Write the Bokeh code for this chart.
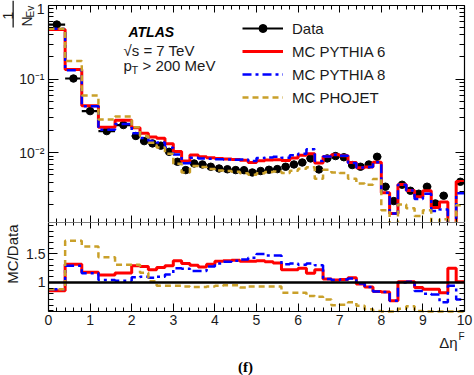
import numpy as np
from bokeh.plotting import figure
from bokeh.layouts import column
from bokeh.models import (Range1d, LinearAxis, LogAxis, FixedTicker,
                          Legend, LegendItem, Label, BoxAnnotation, CustomJSTickFormatter)
from bokeh.embed import file_html
from bokeh.resources import INLINE

# ---------------- data ----------------
bin_edges = [0.0, 0.4, 0.8, 1.2, 1.6, 2.0, 2.2, 2.4, 2.6, 2.8, 3.0, 3.2, 3.4, 3.6, 3.8, 4.0,
             4.2, 4.4, 4.6, 4.8, 5.0, 5.2, 5.4, 5.6, 5.8, 6.0, 6.2, 6.4, 6.6, 6.8, 7.0,
             7.2, 7.4, 7.6, 7.8, 8.0, 8.2, 8.4, 8.6, 8.8, 9.0, 9.2, 9.4, 9.6, 9.8, 10.0]

data_vals = [0.551, 0.102, 0.0368, 0.0197, 0.0238,
             0.0169, 0.0144, 0.0134, 0.0125, 0.0103,
             0.00755, 0.00582, 0.00716, 0.00694, 0.00646,
             0.00612, 0.00597, 0.00582, 0.0058, 0.0054,
             0.00565, 0.00588, 0.0060, 0.00646, 0.00694,
             0.00738, 0.00838, 0.00593, 0.00838, 0.00902,
             0.0087, 0.00681, 0.00646, 0.00694, 0.00883,
             0.00346, 0.00221, 0.00368, 0.00305, 0.00278,
             0.00346, 0.00205, 0.00261, 0.0008, 0.00404]

ratio_pythia6 = [0.855, 1.32, 1.18, 1.13, 1.165,
                 1.29, 1.28, 1.22, 1.26, 1.29,
                 1.38, 1.33, 1.30, 1.27, 1.32,
                 1.37, 1.38, 1.39, 1.37, 1.37,
                 1.38, 1.36, 1.34, 1.22, 1.22,
                 1.25, 1.16, 1.22, 1.06, 1.04,
                 1.05, 1.08, 0.97, 0.92, 0.84,
                 0.83, 0.68, 1.01, 1.01, 0.91,
                 0.88, 0.88, 0.82, 1.25, 1.01]

ratio_pythia8 = [0.88, 1.29, 1.16, 1.04, 1.03,
                 1.09, 1.10, 1.08, 1.10, 1.14,
                 1.25, 1.24, 1.20, 1.20, 1.28,
                 1.33, 1.36, 1.38, 1.40, 1.43,
                 1.50, 1.47, 1.47, 1.32, 1.33,
                 1.31, 1.33, 1.30, 1.06, 1.04,
                 1.05, 1.07, 0.98, 0.92, 0.84,
                 0.83, 0.68, 1.00, 1.01, 0.85,
                 0.80, 0.79, 0.65, 0.94, 0.70]

ratio_phojet = [0.88, 1.73, 1.63, 1.44, 1.31,
                1.31, 1.17, 1.02, 0.94, 0.94,
                0.94, 0.93, 0.92, 0.92, 0.93,
                0.94, 0.95, 0.95, 0.91, 0.93,
                0.93, 0.93, 0.93, 0.82, 0.82,
                0.82, 0.76, 0.75, 0.70, 0.60,
                0.61, 0.65, 0.59, 0.53, 0.50,
                0.48, 0.30, 0.54, 0.58, 0.50,
                0.48, 0.48, 0.48, 0.48, 0.48]

x_tick_values = [0, 1, 2, 3, 4, 5, 6, 7, 8, 9, 10]
log_tick_values = [0.01, 0.1, 1.0]
log_tick_labels = ["10\u207b\u00b2", "10\u207b\u00b9", "1"]
ratio_tick_values = [1.0, 1.5]
ratio_tick_labels = ["1", "1.5"]
legend_labels = ["Data", "MC PYTHIA 6", "MC PYTHIA 8", "MC PHOJET"]

# ---------------- styling / layout constants ----------------
RED = "#ff0000"
BLUE = "#0000ff"
GOLD = "#c9a02a"
FONT = "Liberation Sans"
TXT = "#1a1a1a"

X_LO, X_HI = 0.0, 10.0
Y_LO, Y_HI = 1.13e-3, 1.0          # top panel
R_LO, R_HI = 0.49, 2.05            # ratio panel
PX = 41.6                          # pixels per unit of x
LEFT, RIGHT = 48, 10               # page margins around the boxes

edges = np.array(bin_edges)
lo = edges[:-1]
hi = edges[1:]
centers = 0.5 * (lo + hi)
d = np.array(data_vals)
r6 = np.array(ratio_pythia6)
r8 = np.array(ratio_pythia8)
rph = np.array(ratio_phojet)
mc6 = d * r6
mc8 = d * r8
mcph = d * rph


def stepy(v):
    return np.append(v, v[-1])


minor_x = [0.2 * i for i in range(51) if i % 5]
minor_log = [m * 10.0 ** e for e in (-3, -2, -1) for m in range(2, 10)]
minor_lin = [round(0.5 + 0.1 * i, 2) for i in range(16)]


def make_axis(cls, ticks, minor, loc, bounds, labels=None, major_in=8, minor_in=4,
              standoff=4):
    ax = cls(ticker=FixedTicker(ticks=ticks, minor_ticks=minor), fixed_location=loc,
             bounds=bounds)
    ax.major_tick_in = major_in
    ax.major_tick_out = 0
    ax.minor_tick_in = minor_in
    ax.minor_tick_out = 0
    ax.axis_line_color = "black"
    ax.axis_line_width = 1.2
    ax.major_tick_line_color = "black"
    ax.minor_tick_line_color = "black"
    ax.major_label_text_font = FONT
    ax.major_label_text_color = TXT
    if labels is None:
        ax.formatter = CustomJSTickFormatter(code="return ''")
        ax.major_label_text_font_size = "1px"
        ax.major_label_standoff = 0
    else:
        if labels != "auto":
            ax.major_label_overrides = {v: t for v, t in zip(ticks, labels)}
        ax.major_label_text_font_size = "14px"
        ax.major_label_standoff = standoff
    return ax


x_range = Range1d(X_LO - LEFT / PX, X_HI + RIGHT / PX)

# ---------------- top panel (page y 0..222, box from y=5) ----------------
top_px = 217.0
dec_px = top_px / np.log10(Y_HI / Y_LO)
p1 = figure(width=474, height=222, x_range=x_range,
            y_range=Range1d(Y_LO, Y_HI * 10 ** (5.0 / dec_px)),
            y_axis_type="log", x_axis_location=None, y_axis_location=None,
            output_backend="svg", toolbar_location=None,
            min_border_left=0, min_border_right=0, min_border_top=0, min_border_bottom=0)
p1.grid.visible = False
p1.outline_line_color = None

p1.add_layout(make_axis(LogAxis, log_tick_values, minor_log, X_LO, (Y_LO, Y_HI),
                        labels=log_tick_labels, major_in=10, minor_in=5, standoff=4), "left")
p1.add_layout(make_axis(LogAxis, log_tick_values, minor_log, X_HI, (Y_LO, Y_HI),
                        major_in=9, minor_in=5), "right")
p1.add_layout(make_axis(LinearAxis, x_tick_values, minor_x, Y_LO, (X_LO, X_HI),
                        major_in=7, minor_in=4), "below")
p1.add_layout(make_axis(LinearAxis, x_tick_values, minor_x, Y_HI, (X_LO, X_HI),
                        major_in=7, minor_in=4), "above")

r_err = p1.segment(x0=lo, x1=hi, y0=d, y1=d, line_color="black", line_width=2.2)
r_pts = p1.scatter(centers, d, size=7.5, color="black")
r_p6 = p1.step(edges, stepy(mc6), mode="after", line_color=RED, line_width=3)
r_p8 = p1.step(edges, stepy(mc8), mode="after", line_color=BLUE, line_width=2.5,
               line_dash="9 4 3 4")
r_ph = p1.step(edges, stepy(mcph), mode="after", line_color=GOLD, line_width=2.5,
               line_dash="6 4")

legend = Legend(items=[
    LegendItem(label=legend_labels[0], renderers=[r_err, r_pts]),
    LegendItem(label=legend_labels[1], renderers=[r_p6]),
    LegendItem(label=legend_labels[2], renderers=[r_p8]),
    LegendItem(label=legend_labels[3], renderers=[r_ph]),
], location=(242, 115), margin=0, padding=0, spacing=3, glyph_width=41, glyph_height=20,
    label_standoff=9, label_text_font=FONT, label_text_font_size="15px",
    label_text_color=TXT, border_line_color=None, background_fill_alpha=0)
p1.add_layout(legend, "center")


def lab(p, x, y, text, size="15px", **kw):
    opts = dict(x=x, y=y, x_units="screen", y_units="screen", text=text,
                text_font=FONT, text_font_size=size, text_color=TXT,
                text_baseline="alphabetic")
    opts.update(kw)
    p.add_layout(Label(**opts))


lab(p1, 128, 191, "ATLAS", size="14px", text_font_style="bold italic", text_color="black")
lab(p1, 123, 172, "\u221as = 7 TeV")
lab(p1, 123, 157, "p")
lab(p1, 131, 153, "T", size="11px")
lab(p1, 142, 157, "> 200 MeV")

# y-axis title of the top panel (mostly outside the picture, as in the reference)
lab(p1, 7, 207, "1", size="14px", angle=np.pi / 2, text_align="center")
p1.add_layout(BoxAnnotation(left=12, right=13.3, bottom=195, top=222,
                            left_units="screen", right_units="screen",
                            bottom_units="screen", top_units="screen",
                            fill_color=TXT, fill_alpha=1, line_color=None))
lab(p1, 26, 196, "N", size="14px", angle=np.pi / 2, text_align="left")
lab(p1, 30, 205, "Ev", size="10px", angle=np.pi / 2, text_align="left")

# ---------------- ratio panel (page y 222..375, box to y=311) ----------------
r_px = 89.0
r_scale = (R_HI - R_LO) / r_px
p2 = figure(width=474, height=153, x_range=x_range,
            y_range=Range1d(R_LO - 64 * r_scale, R_HI),
            x_axis_location=None, y_axis_location=None,
            output_backend="svg", toolbar_location=None,
            min_border_left=0, min_border_right=0, min_border_top=0, min_border_bottom=0)
p2.grid.visible = False
p2.outline_line_color = None

p2.add_layout(make_axis(LinearAxis, ratio_tick_values, minor_lin, X_LO, (R_LO, R_HI),
                        labels=ratio_tick_labels, major_in=9, minor_in=5, standoff=3), "left")
p2.add_layout(make_axis(LinearAxis, ratio_tick_values, minor_lin, X_HI, (R_LO, R_HI),
                        major_in=9, minor_in=5), "right")
p2.add_layout(make_axis(LinearAxis, x_tick_values, minor_x, R_LO, (X_LO, X_HI),
                        labels="auto", major_in=8, minor_in=4, standoff=3), "below")
p2.add_layout(make_axis(LinearAxis, x_tick_values, minor_x, R_HI, (X_LO, X_HI),
                        major_in=6, minor_in=3), "above")

p2.step(edges, stepy(np.clip(r6, R_LO, None)), mode="after", line_color=RED, line_width=3)
p2.step(edges, stepy(np.clip(r8, R_LO, None)), mode="after", line_color=BLUE,
        line_width=2.5, line_dash="9 4 3 4")
p2.step(edges, stepy(np.clip(rph, R_LO, None)), mode="after", line_color=GOLD,
        line_width=2.5, line_dash="6 4")
p2.line(x=[bin_edges[0], bin_edges[-1]], y=[1.0, 1.0], line_color="black", line_width=2.5)

lab(p2, 12, 151, "MC/Data", angle=np.pi / 2, text_align="right", text_baseline="middle")
lab(p2, 457, 33, "\u0394\u03b7", text_align="right")
lab(p2, 458, 39, "F", size="10px")
lab(p2, 245, 9, "(f)", size="15px", text_align="center", text_font="Liberation Serif",
    text_font_style="bold", text_color="black")

layout = column(p1, p2, spacing=0)
open("out.html", "w").write(file_html(layout, INLINE))
